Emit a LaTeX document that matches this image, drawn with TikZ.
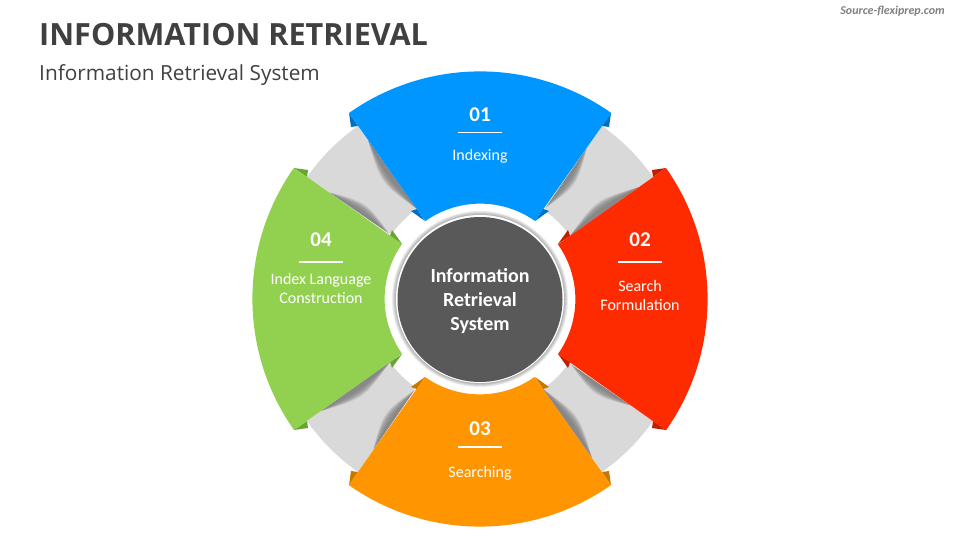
\documentclass[tikz,border=0pt]{standalone}
\usetikzlibrary{calc}
\usepackage{fontspec}
\setmainfont{Carlito}
\newfontfamily\titlefont{Open Sans}
\definecolor{cblue}{RGB}{0,150,255}
\definecolor{dblue}{RGB}{0,112,192}
\definecolor{cred}{RGB}{255,43,0}
\definecolor{dred}{RGB}{192,32,0}
\definecolor{corange}{RGB}{255,149,0}
\definecolor{dorange}{RGB}{200,120,0}
\definecolor{cgreen}{RGB}{146,208,80}
\definecolor{dgreen}{RGB}{104,166,50}
\definecolor{band}{RGB}{217,217,217}
\definecolor{hub}{RGB}{89,89,89}
\definecolor{ink}{RGB}{64,64,64}
\tikzset{
  num/.style={text=white,font=\fontsize{21}{23}\selectfont\bfseries,align=center,inner sep=0pt},
  lab/.style={text=white,font=\fontsize{16}{18.8}\selectfont,align=center,inner sep=0pt},
  rulebar/.style={draw=white,line width=1.4pt},
}
\newcommand{\petal}[3]{%
  \begin{scope}[rotate around={#1:(480,299)}]
    \fill[#3] (349,113) -- (351,127) -- (358,126) -- cycle;
    \fill[#3] (425,221) -- (411,211) -- (417,209) -- cycle;
    \fill[#3] (611,113) -- (609,127) -- (602,126) -- cycle;
    \fill[#3] (535,221) -- (549,211) -- (543,209) -- cycle;
    \fill[#2] (349,113) arc[start angle=234.8,end angle=305.2,radius=227.5]
      -- (535,221) arc[start angle=305.2,end angle=234.8,radius=95] -- cycle;
  \end{scope}}
\newcommand{\bandshape}{(358,126) arc[start angle=234.8,end angle=215.2,radius=212]
   -- (391,235) arc[start angle=215.2,end angle=234.8,radius=110] -- cycle}
\begin{document}
\begin{tikzpicture}[x=1pt,y=-1pt]
\useasboundingbox (0,0) rectangle (960,540);
\fill[white] (0,0) rectangle (960,540);
\foreach \r in {0,90,180,270}{
  \begin{scope}[rotate around={\r:(480,299)}]
    \fill[band] \bandshape;
    \begin{scope}
      \clip \bandshape;
      \foreach \b in {3,4,5,5.5,6,6.5,7,7.5}{
        \fill[black,opacity=0.055] (368,140) .. controls ($(392.5,174.5)+(-1.62*\b,1.16*\b)$) .. (417,209) -- cycle;
        \fill[black,opacity=0.055] (326,191.5) .. controls ($(358.5,214)+(1.13*\b,-1.65*\b)$) .. (391,236.5) -- cycle;
      }
    \end{scope}
  \end{scope}
}
\petal{0}{cblue}{dblue}
\petal{-90}{cred}{dred}
\petal{180}{corange}{dorange}
\petal{90}{cgreen}{dgreen}
\fill[white] (480,299) circle[radius=94];
\foreach \x in {88,87,86,85}{\fill[black,opacity=0.08] (480,299) circle[radius=\x];}
\fill[white] (480,299) circle[radius=84];
\node[circle,fill=hub,minimum size=165pt,inner sep=0pt] (hubnode) at (480,299.5) {};
\node[text=white,align=center,inner sep=0pt,font=\fontsize{20}{24}\selectfont\bfseries] (hubtext) at (480,301.5) {Information\\Retrieval\\System};
\node[num] (n1) at (480,115) {01};
\draw[rulebar] (458,132.5) -- (502,132.5);
\node[lab] (l1) at (480,156) {Indexing};
\node[num] (n2) at (640,240) {02};
\draw[rulebar] (618,262) -- (662,262);
\node[lab] (l2) at (640,295.3) {Search\\Formulation};
\node[num] (n3) at (480,429) {03};
\draw[rulebar] (458,447) -- (502,447);
\node[lab] (l3) at (480,473) {Searching};
\node[num] (n4) at (321,240) {04};
\draw[rulebar] (299,262) -- (343,262);
\node[lab] (l4) at (321,288.7) {Index Language\\Construction};
\node[anchor=base west,inner sep=0pt,text=ink,font=\titlefont\fontsize{30.6}{36}\selectfont\bfseries] (title) at (39,46) {INFORMATION RETRIEVAL};
\node[anchor=base west,inner sep=0pt,text=ink,font=\titlefont\fontsize{20.8}{24}\selectfont] (sub) at (39,81) {Information Retrieval System};
\node[anchor=base east,inner sep=0pt,text=black!50,font=\fontsize{12}{14}\selectfont\bfseries\itshape] (src) at (945,15) {Source-flexiprep.com};
\end{tikzpicture}
\end{document}
